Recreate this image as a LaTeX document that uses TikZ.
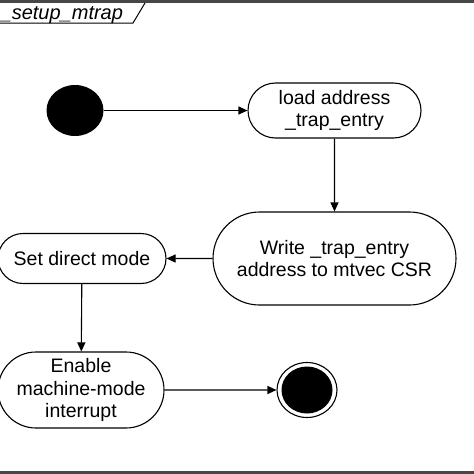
\documentclass[tikz,border=0pt]{standalone}
\usepackage{fontspec}
\setmainfont{Liberation Sans}
\usetikzlibrary{shapes.misc,shapes.geometric,arrows.meta}
\begin{document}
\begin{tikzpicture}[x=1pt,y=-1pt,
  act/.style={rounded rectangle, draw=black, line width=1.1pt, align=center, inner sep=0pt,
    font=\fontsize{19.5}{22.5}\selectfont},
  flow/.style={draw=black, line width=1.1pt, -{Triangle[length=9pt,width=8pt]}},
  bar/.style={fill=black!72, draw=none}]
\useasboundingbox (0,0) rectangle (474,474);
\fill[white] (0,0) rectangle (474,474);
\path[bar] (0,0) rectangle (474,3);
\path[bar] (0,471) rectangle (474,474);
\draw[line width=1pt] (0,23) -- (133,23) -- (145,3);
\node[anchor=base west, inner sep=0pt, font=\fontsize{20}{22}\selectfont\itshape] (title) at (0.5,19) {\_setup\_mtrap};
\node[ellipse, fill=black, minimum width=57, minimum height=51, inner sep=0pt] (init) at (75,110.5) {};
\node[act, minimum width=173, minimum height=55] (load) at (334.5,110.5) {load address\\\_trap\_entry};
\node[act, minimum width=243, minimum height=93] (write) at (334.5,258.5) {Write \_trap\_entry\\address to mtvec CSR};
\node[act, minimum width=168, minimum height=50] (set) at (82,258.5) {Set direct mode};
\node[act, minimum width=166, minimum height=76] (enable) at (81,390) {Enable\\machine-mode\\interrupt};
\node[ellipse, draw=black, line width=1.1pt, minimum width=60, minimum height=55, inner sep=0pt] (fin) at (307,390) {};
\node[ellipse, fill=black, minimum width=51, minimum height=47, inner sep=0pt] (fininner) at (fin.center) {};
\draw[flow] (init) -- (load);
\draw[flow] (load) -- (write);
\draw[flow] (write) -- (set);
\draw[flow] (set) -- (enable);
\draw[flow] (enable) -- (fin);
\end{tikzpicture}
\end{document}
